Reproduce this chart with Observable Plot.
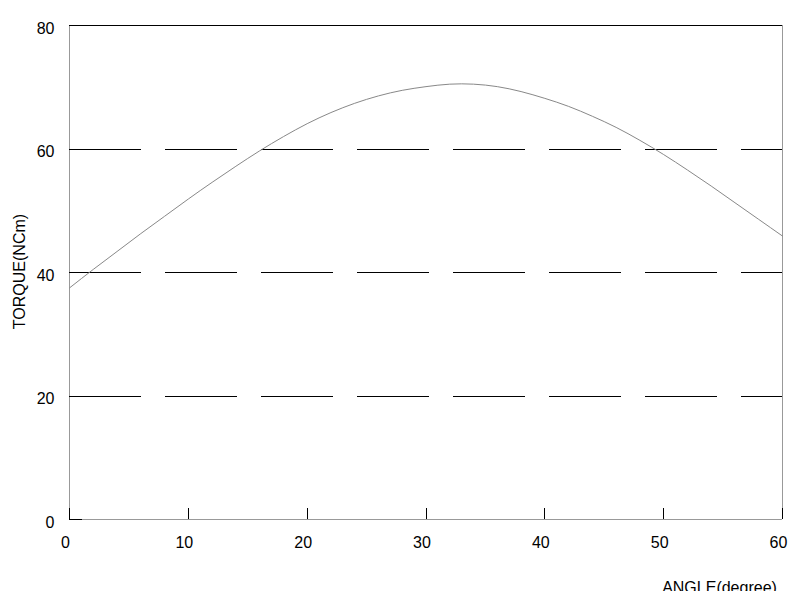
<!DOCTYPE html>
<html>
<head>
<meta charset="utf-8">
<script src="https://cdn.jsdelivr.net/npm/d3@7"></script>
<script src="https://cdn.jsdelivr.net/npm/@observablehq/plot@0.6"></script>
<style>
  html, body { margin: 0; padding: 0; background: #fff; overflow: hidden; }
  #chart svg { display: block; }
</style>
</head>
<body>
<div id="chart"></div>
<script>
const angles = [0, 2, 4, 6, 8, 10, 12, 14, 16, 18, 20, 22, 24, 26, 28, 30,
  32, 34, 36, 38, 40, 42, 44, 46, 48, 50, 52, 54, 56, 58, 60];
const torque = [37.5, 40.5, 43.4, 46.3, 49.1, 51.9, 54.6, 57.2, 59.7, 62.0, 64.1, 65.9, 67.4, 68.6, 69.5, 70.1,
  70.5, 70.5, 70.1, 69.3, 68.2, 66.9, 65.3, 63.5, 61.4, 59.1, 56.6, 54.0, 51.3, 48.6, 45.9];
const xTicks = [0, 10, 20, 30, 40, 50, 60];
const yTicks = [0, 20, 40, 60, 80];
const gridValues = [20, 40, 60];
const xLabel = "ANGLE(degree)";
const yLabel = "TORQUE(NCm)";

const data = angles.map((a, i) => ({angle: a, torque: torque[i]}));

const chart = Plot.plot({
  width: 811,
  height: 600,
  marginLeft: 69,
  marginRight: 29,
  marginTop: 25,
  marginBottom: 81,
  style: {fontFamily: "'Liberation Sans', Arial, sans-serif", fontSize: "16px", color: "#000", background: "#fff"},
  x: {domain: [0, 60]},
  y: {domain: [0, 80]},
  marks: [
    Plot.ruleX([0, 60], {stroke: "#999", strokeWidth: 1, shapeRendering: "crispEdges"}),
    Plot.ruleY([0], {stroke: "#999", strokeWidth: 1, shapeRendering: "crispEdges"}),
    Plot.ruleY(gridValues, {stroke: "#000", strokeWidth: 1, strokeDasharray: "72,24", shapeRendering: "crispEdges"}),
    Plot.ruleY([80], {stroke: "#000", strokeWidth: 1, shapeRendering: "crispEdges"}),
    Plot.axisX({ticks: xTicks, tickSize: -11, text: null, stroke: "#000", label: null, shapeRendering: "crispEdges"}),
    Plot.axisX({ticks: xTicks, tickSize: 0, tickPadding: 17, dx: -4, fill: "#000", label: null, fontSize: 16}),
    Plot.axisY({ticks: yTicks, tickSize: -13, text: null, stroke: "#000", label: null, shapeRendering: "crispEdges"}),
    Plot.axisY({ticks: yTicks, tickSize: 0, tickPadding: 15, dy: 3, fill: "#000", label: null, fontSize: 16}),
    Plot.line(data, {x: "angle", y: "torque", stroke: "#888", strokeWidth: 1, curve: "natural"}),
    Plot.text([yLabel], {frameAnchor: "left", dx: -50, dy: -1, rotate: -90, textAnchor: "middle", fill: "#000", fontSize: 16}),
    Plot.text([xLabel], {frameAnchor: "bottom-right", dx: -63, dy: 73, textAnchor: "middle", fill: "#000", fontSize: 16})
  ]
});
document.getElementById("chart").appendChild(chart);
</script>
</body>
</html>
